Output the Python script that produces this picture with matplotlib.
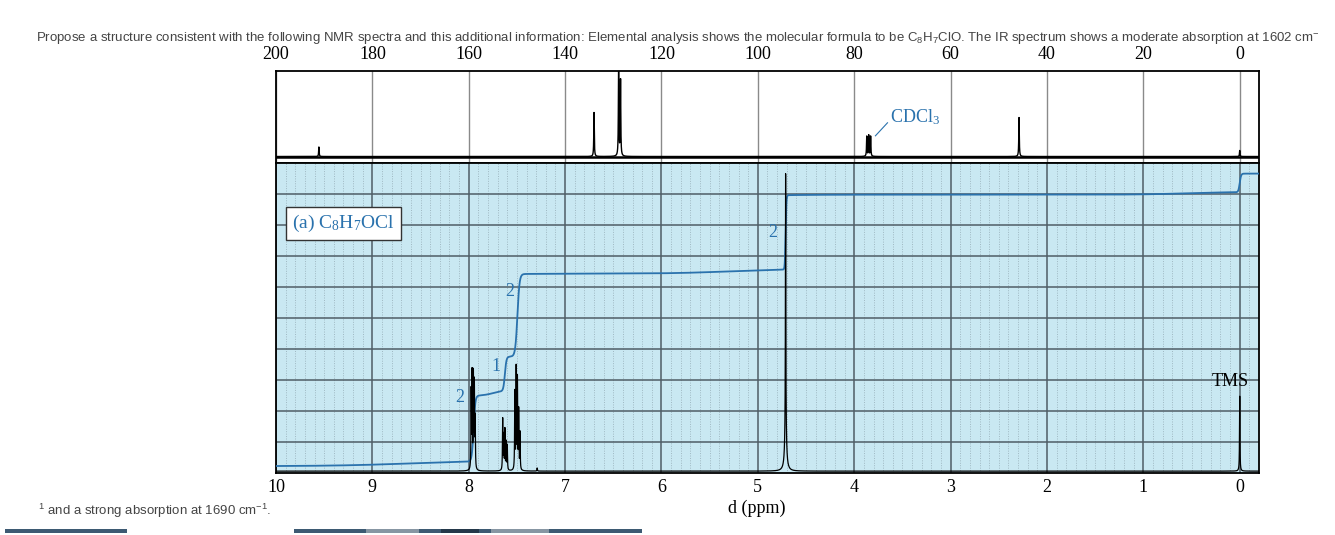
import numpy as np
import matplotlib.pyplot as plt
from matplotlib.patches import Rectangle

plt.rcParams['font.family'] = ['Liberation Serif', 'DejaVu Serif']

# 13C peaks: shift (ppm), height (arbitrary, axis units)
c13_shift = [191.1, 134.0, 128.9, 128.5, 77.4, 77.0, 76.6, 45.8, 0.0]
c13_height = [9.5, 44.0, 90.0, 76.0, 20.0, 21.0, 20.0, 39.0, 6.0]

# 1H peaks: shift (ppm), height (grid units)
h1_shift = [7.975, 7.965, 7.952, 7.942, 7.933,
            7.648, 7.637, 7.625, 7.612, 7.600,
            7.522, 7.508, 7.495, 7.482, 7.468,
            7.29, 4.712, 4.712, 0.0]
h1_height = [2.5, 3.05, 3.0, 2.7, 1.6,
             1.65, 1.1, 1.3, 0.9, 0.8,
             2.5, 3.25, 2.9, 1.9, 1.2,
             0.1, 8.6, 1.0, 2.42]
h1_width = [0.0025] * 16 + [0.0025, 0.012, 0.0025]

# integral trace: start level, step centres, step sizes, step widths
integ_start = 0.22
integ_center = [8.6, 7.950, 7.75, 7.625, 7.495, 5.3, 4.712, 0.6, 0.0]
integ_step = [0.18, 2.12, 0.15, 1.10, 2.66, 0.15, 2.40, 0.08, 0.60]
integ_width = [0.8, 0.018, 0.10, 0.016, 0.022, 0.6, 0.008, 0.4, 0.014]

h1_labels = [(8.09, 2.45, '2'), (7.72, 3.45, '1'), (7.57, 5.87, '2'), (4.85, 7.77, '2')]

top_ticks = [200, 180, 160, 140, 120, 100, 80, 60, 40, 20, 0]
bottom_ticks = [10, 9, 8, 7, 6, 5, 4, 3, 2, 1, 0]

blue = '#2a72ad'
grid_dark = '#4f5d66'

fig = plt.figure(figsize=(13.35, 5.35), dpi=100)
W, H = 1335, 535
left, right = 276 / W, 1259 / W
ax_c = fig.add_axes([left, 1 - 163 / H, right - left, 92 / H])
ax_h = fig.add_axes([left, 1 - 473 / H, right - left, 310 / H])

# ---- 13C panel ----
xc = np.linspace(200, -4, 40001)
yc = np.zeros_like(xc)
for s, h in zip(c13_shift, c13_height):
    w = 0.06
    yc += h * w**2 / ((xc - s)**2 + w**2)
ax_c.set_xlim(200, -4)
ax_c.set_ylim(-6.5, 85.5)
for t in top_ticks:
    ax_c.axvline(t, color='#8a8a8a', lw=1.0, zorder=1)
ax_c.axhline(0, color='black', lw=1.8, zorder=2)
ax_c.plot(xc, yc, color='black', lw=1.0, zorder=3)
ax_c.plot([75.6, 73.1], [20.7, 33.7], color=blue, lw=0.8)
ax_c.text(72.5, 39.5, r'CDCl$\mathregular{_3}$', color=blue, fontsize=13,
          va='center', ha='left')
ax_c.xaxis.tick_top()
ax_c.set_xticks(top_ticks)
ax_c.set_xticklabels([str(t) for t in top_ticks], fontsize=13)
ax_c.tick_params(axis='x', length=0, pad=6)
ax_c.set_yticks([])
for sp in ax_c.spines.values():
    sp.set_linewidth(1.3)

# ---- 1H panel ----
xh = np.linspace(10, -0.2, 40001)
yh = np.full_like(xh, 0.06)
for s, h, w in zip(h1_shift, h1_height, h1_width):
    yh += h * w**2 / ((xh - s)**2 + w**2)
integ = np.full_like(xh, integ_start)
for c, a, w in zip(integ_center, integ_step, integ_width):
    integ += a * 0.5 * (1 + np.tanh((c - xh) / w))

ax_h.set_facecolor('#c9e8f2')
ax_h.set_xlim(10, -0.2)
ax_h.set_ylim(0, 10)
for t in np.arange(-0.1, 10.0, 0.1):
    if abs(t - round(t)) > 0.01:
        ax_h.axvline(t, color='#9fb8c2', lw=0.7, ls=(0, (1, 1.5)), zorder=1)
for t in bottom_ticks:
    ax_h.axvline(t, color=grid_dark, lw=1.1, zorder=1)
for v in range(1, 10):
    ax_h.axhline(v, color=grid_dark, lw=1.1, zorder=1)
ax_h.plot(xh, integ, color=blue, lw=1.3, zorder=3)
ax_h.plot(xh, yh, color='black', lw=0.9, zorder=4)
for x, y, s in h1_labels:
    ax_h.text(x, y, s, color=blue, fontsize=13, ha='center', va='center', zorder=5)
ax_h.text(0.10, 2.94, 'TMS', color='black', fontsize=13, ha='center', va='center', zorder=5)
ax_h.text(9.30, 8.06, r'(a) C$\mathregular{_8}$H$\mathregular{_7}$OCl', color=blue,
          fontsize=14, ha='center', va='center', zorder=5,
          bbox=dict(boxstyle='square,pad=0.3', facecolor='white', edgecolor='#333333', lw=1.0))
ax_h.set_xticks(bottom_ticks)
ax_h.set_xticklabels([str(t) for t in bottom_ticks], fontsize=13)
ax_h.tick_params(axis='x', length=0, pad=4)
ax_h.set_yticks([])
for sp in ax_h.spines.values():
    sp.set_linewidth(1.3)

fig.text(757 / W, 1 - 508 / H, 'd (ppm)', fontsize=13, ha='center', va='center')

# ---- question text ----
title = ('Propose a structure consistent with the following NMR spectra and this additional '
         'information: Elemental analysis shows the molecular formula to be '
         r'C$\mathregular{_8}$H$\mathregular{_7}$ClO. The IR spectrum shows a moderate '
         r'absorption at 1602 cm$\mathregular{^{-}}$')
fig.text(36 / W, 1 - 38 / H, title, fontsize=9.5, color='#444444', ha='left', va='center',
         family=['Liberation Sans', 'DejaVu Sans'])
fig.text(38 / W, 1 - 511 / H, r'$\mathregular{^1}$ and a strong absorption at 1690 cm$\mathregular{^{-1}}$.',
         fontsize=9.5, color='#444444', ha='left', va='center',
         family=['Liberation Sans', 'DejaVu Sans'])

# cut-off page elements at the bottom edge
for x0, x1, col in [(5, 127, '#3d5a73'), (294, 642, '#3d5a73'), (366, 419, '#8796a3'),
                    (441, 479, '#24384a'), (491, 549, '#8796a3')]:
    fig.add_artist(Rectangle((x0 / W, 2 / H), (x1 - x0) / W, 4 / H, transform=fig.transFigure,
                             facecolor=col, edgecolor='none'))

fig.savefig('out.png', dpi=100)
